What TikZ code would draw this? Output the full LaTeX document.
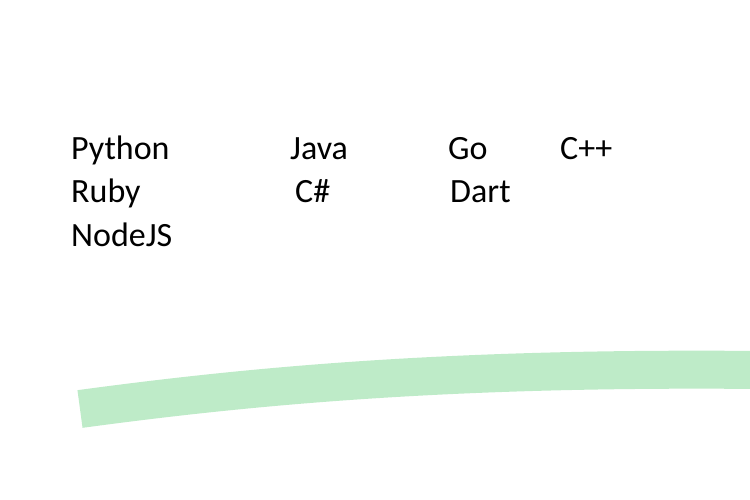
\documentclass[tikz,border=0pt]{standalone}
\usepackage{fontspec}
\setmainfont{Carlito}
\begin{document}
\begin{tikzpicture}[x=1pt,y=1pt,lbl/.style={anchor=base west,inner sep=0pt,font=\fontsize{34}{38}\selectfont}]
\useasboundingbox (0,0) rectangle (750,499);
\definecolor{brush}{RGB}{190,235,200}
\draw[brush,line width=38pt] (80,90) .. controls (250,113) and (450,132) .. (760,129);
\node[lbl] (py) at (71,339) {Python};
\node[lbl] (ja) at (290,339) {Java};
\node[lbl] (go) at (448,339) {Go};
\node[lbl] (cp) at (560,339) {C++};
\node[lbl] (rb) at (71,296) {Ruby};
\node[lbl] (cs) at (295,296) {C\#};
\node[lbl] (da) at (450,296) {Dart};
\node[lbl] (nj) at (71,253) {NodeJS};
\end{tikzpicture}
\end{document}
